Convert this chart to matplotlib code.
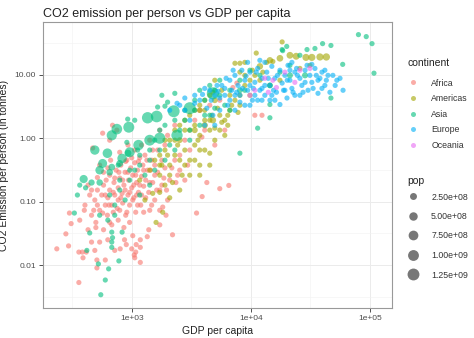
import numpy as np
import matplotlib
matplotlib.use("Agg")
import matplotlib.pyplot as plt
from matplotlib.lines import Line2D

plt.rcParams['font.family'] = ['Liberation Sans', 'DejaVu Sans']

# 데이터 - gdp per capita, co2 (tonnes per person)
africa_gdp = [235, 280, 310, 360, 300, 366, 400, 430, 460, 415, 490, 538, 500, 580, 630, 653,
              720, 800, 870, 900, 1020, 1080, 1180, 1050, 1180, 360, 385, 390, 510, 510, 1000,
              1060, 1180, 1090, 1390, 1350, 2200, 3500, 1720, 1820, 295, 600, 3900,
              490, 515, 538, 560, 580, 600, 625, 630, 653, 653, 680, 700, 710, 720, 740, 770,
              770, 793, 793, 810, 830, 840, 860, 880, 890, 910, 930, 940, 960, 980, 1000, 1020,
              1040, 1060, 1080, 1100, 1120, 1140, 1167, 1190, 1210, 1240, 1260, 1290, 1310,
              1360, 1416, 1470, 1560, 1650, 1718, 1900, 2084, 2300, 444, 460, 430, 405, 500,
              680, 770, 860, 960, 1416, 1560, 1790, 2000, 2430,
              1416, 1718, 2000, 2300, 2790, 3380, 3724, 4519, 5483, 7070, 7630, 3880, 4270,
              5483, 6530, 10800, 12400, 3069, 2529, 4100, 4980, 6040, 690, 750, 653, 570, 470, 515,
              538, 580, 610, 630, 665, 700, 720, 755, 780, 810, 840, 880, 890, 930, 962, 1000,
              1020, 1040, 1080, 1100, 1140, 1167, 1210, 1260, 1310, 1340, 1390, 1440, 1500, 1560,
              1620, 1650, 1790, 1860, 1960, 2170, 2350, 2529, 2790, 2950, 600, 645, 570, 515,
              480, 460, 910, 1120, 1260, 1470, 1718, 1940, 793, 930, 1060, 1210, 1500, 1900]
africa_co2 = [0.018, 0.031, 0.045, 0.0053, 0.066, 0.051, 0.073, 0.036, 0.023, 0.016, 0.017,
              0.023, 0.039, 0.036, 0.025, 0.047, 0.017, 0.018, 0.025, 0.021, 0.029, 0.016,
              0.019, 0.0144, 0.025, 0.016, 0.016, 0.013, 0.012, 0.009, 0.018, 0.013, 0.011,
              0.021, 0.036, 0.028, 0.030, 0.066, 0.043, 0.082, 0.020, 0.012, 0.12,
              0.106, 0.152, 0.073, 0.127, 0.182, 0.088, 0.061, 0.115, 0.152, 0.261, 0.088,
              0.068, 0.20, 0.127, 0.313, 0.106, 0.165, 0.073, 0.235, 0.376, 0.135, 0.095,
              0.182, 0.29, 0.061, 0.45, 0.127, 0.218, 0.088, 0.34, 0.165, 0.261, 0.115, 0.41,
              0.068, 0.20, 0.313, 0.14, 0.49, 0.088, 0.25, 0.376, 0.175, 0.54, 0.115, 0.313,
              0.20, 0.45, 0.261, 0.65, 0.152, 0.34, 0.218, 0.45, 0.127, 0.061, 0.182, 0.088,
              0.047, 0.043, 0.051, 0.039, 0.047, 0.073, 0.106, 0.182, 0.106, 0.261,
              0.93, 1.34, 1.11, 1.6, 0.93, 1.92, 2.76, 3.31, 3.97, 6.3, 7.4, 1.04, 0.20,
              0.16, 0.18, 2.3, 2.3, 0.65, 0.54, 1.34, 0.78, 1.34, 1.6, 1.34, 0.93, 1.2, 0.7, 0.24,
              0.376, 0.29, 0.218, 0.34, 0.45, 0.14, 0.235, 0.078, 0.29, 0.115, 0.218, 0.152,
              0.43, 0.29, 0.14, 0.49, 0.106, 0.182, 0.261, 0.127, 0.43, 0.182, 0.127, 0.313,
              0.218, 0.45, 0.14, 0.313, 0.20, 0.376, 0.152, 0.29, 0.45, 0.235, 0.152, 0.34,
              0.20, 0.313, 0.218, 0.376, 0.127, 0.088, 0.066, 0.088, 0.073, 0.152, 0.068,
              0.088, 0.068, 0.088, 0.073, 0.061, 0.6, 0.78, 0.65, 0.78, 0.65, 0.78]

americas_gdp = [18300, 11100, 7350, 8090, 8900, 13600, 15300, 4980, 5700, 4519, 4100, 3724,
                3380, 3069, 2790, 2529, 2300, 2084, 1900, 1718, 1560, 1416, 1718, 1500, 1718,
                1820, 1600, 2200, 2650, 3724, 4519, 4980, 5483, 6040, 6660, 7350, 8090, 8900,
                9820, 10800, 3724, 4100, 3069, 3380, 2790, 2529, 2084, 2300, 1900, 4700, 6400,
                9820, 12600, 14450, 17540, 25800, 31300, 4800, 3600, 2084, 1290, 1167,
                2790, 3380, 4519, 5483, 6660, 8090, 3380, 4100, 2430, 2000, 1790,
                4100, 4519, 5250, 5700, 6400, 6900, 7800, 4980, 6040, 3724, 3069, 2790, 2300,
                1900, 1718, 2084, 2529, 3724, 3069, 4519, 8900, 10300, 8090, 11900]
americas_co2 = [33, 22, 15.2, 15.2, 15.7, 15.7, 16.2, 8.2, 5.7, 4.75, 3.97, 3.31, 2.76, 2.3,
                1.92, 1.6, 1.34, 0.93, 0.65, 0.54, 0.45, 0.313, 0.261, 0.135, 0.14, 0.068,
                0.047, 0.20, 0.261, 0.376, 0.58, 0.93, 1.34, 1.92, 2.76, 3.97, 4.75, 6.8, 8.2,
                9.8, 1.11, 1.92, 1.34, 0.78, 0.65, 0.45, 0.376, 0.54, 0.182, 2.3, 1.6, 4.75,
                11, 6.8, 8.2, 12.6, 14.1, 5.3, 0.93, 0.115, 0.106, 0.218,
                0.376, 1.6, 1.34, 2.3, 4.75, 3.31, 0.45, 0.65, 0.78, 0.54, 0.376,
                2.76, 1.92, 2.97, 1.78, 2.3, 3.31, 2.55, 1.44, 1.11, 0.65, 0.45, 1.34, 0.93,
                0.93, 0.376, 0.261, 0.152, 0.261, 0.261, 0.376, 9.8, 11.8, 11, 8.2]
# 인구가 큰 나라 (미국, 브라질, 멕시코)
americas_big_gdp = [11900, 14450, 17540, 21280, 24000, 29000, 32500, 38020, 43000,
                    2529, 3380, 4100, 4800, 3724, 4980]
americas_big_co2 = [13.6, 16.9, 18.2, 20.3, 19.6, 18.8, 18.8, 19.1, 19.1,
                    0.93, 1.34, 1.6, 1.92, 2.76, 3.97]
americas_big_pop = [0.18e9, 0.19e9, 0.21e9, 0.23e9, 0.25e9, 0.27e9, 0.28e9, 0.29e9, 0.31e9,
                    0.09e9, 0.12e9, 0.15e9, 0.18e9, 0.07e9, 0.10e9]

asia_gdp = [80000, 93000, 104000, 40000, 47000, 34500, 29600, 20000, 18300, 59000, 108000,
            47000, 14450, 14450, 11400, 8090, 25800, 21280, 17540, 11900, 8900, 18500,
            1790, 2300, 2000, 1650, 1900, 925, 1060, 910,
            1167, 1416, 1718, 2084, 2529, 2790, 3380, 4100, 3069, 3724, 4519, 4980, 6040,
            2300, 1900, 1560, 1290, 962, 793, 1060, 880, 720, 1167, 1416, 6660, 8090, 9820, 5483,
            550, 600, 640, 525, 780, 680, 680, 690, 680, 830, 330, 444, 420, 538, 630, 720,
            350, 410, 366,
            2300, 2790, 3380, 3724, 4519, 5483, 1718, 1416, 1167, 962, 793, 653, 770, 1120,
            1560, 1900, 3069, 4100, 4980, 6660]
asia_co2 = [43, 40, 31, 31, 29, 26, 25, 28, 25, 14.6, 10.6, 4.3, 3.4, 2.1, 1.44, 0.58, 20.3,
            14.1, 11, 9.8, 5.7, 24,
            4.75, 5.1, 3.7, 3.1, 3.2, 2.0, 1.92, 0.86,
            0.54, 0.65, 0.65, 0.78, 1.34, 1.92, 2.76, 3.97, 0.93, 1.6, 2.3, 2.97, 3.31,
            0.65, 0.45, 0.313, 0.261, 0.218, 0.152, 0.313, 0.106, 0.088, 0.127, 0.182, 5.7,
            8.2, 11.8, 4.75,
            0.0034, 0.0058, 0.0087, 0.0104, 0.0116, 0.019, 0.023, 0.027, 0.033, 0.033,
            0.066, 0.032, 0.017, 0.061, 0.051, 0.061, 0.127, 0.165, 0.182,
            1.92, 2.76, 3.97, 5.7, 6.8, 8.2, 1.34, 0.45, 0.376, 0.313, 0.218, 0.127, 0.376,
            0.65, 0.93, 1.6, 1.34, 2.3, 5.7, 2.76]
# 중국, 인도, 인도네시아 등 인구가 큰 나라
asia_big_gdp = [490, 625, 680, 750, 945, 1360, 1620, 2250, 3069, 4800,
                395, 538, 570, 830, 962, 1140, 1416, 1718, 2400,
                460, 538, 653, 680, 793, 930,
                8090, 14450, 21280, 28500]
asia_big_co2 = [0.65, 0.58, 1.11, 1.39, 1.49, 2.1, 2.2, 2.66, 2.97, 5.1,
                0.227, 0.313, 0.40, 0.48, 0.60, 0.78, 0.93, 1.0, 1.11,
                0.2, 0.2, 0.29, 0.35, 0.4, 0.58,
                5.7, 6.8, 9.8, 9.8]
asia_big_pop = [0.67e9, 0.72e9, 0.85e9, 0.95e9, 1.03e9, 1.13e9, 1.2e9, 1.26e9, 1.3e9, 1.33e9,
                0.45e9, 0.52e9, 0.6e9, 0.7e9, 0.8e9, 0.9e9, 1.0e9, 1.08e9, 1.11e9,
                0.15e9, 0.18e9, 0.2e9, 0.22e9, 0.23e9, 0.25e9,
                0.10e9, 0.11e9, 0.12e9, 0.127e9]

europe_gdp = [3930, 4519, 5200, 5700, 6040, 6660, 6900, 7350, 7800, 8090, 8400, 8900, 9400,
              9820, 10300, 10800, 11400, 11900, 12400, 13100, 13600, 14450, 15000, 15900,
              16400, 17540, 18300, 19300, 20100, 20500, 21280, 22100, 23400, 24200, 25800,
              26800, 28500, 30200, 31300, 32500, 34500, 36600, 38000, 39500, 41800, 44400,
              48800, 17540, 14450, 6400, 7350, 5483, 4800, 4270, 3724, 3380, 2790, 2400, 3069,
              4100, 4980, 8900, 10800, 11900, 13100, 9400, 25800, 22100, 32500,
              4980, 6040, 7350, 9820, 11400, 13100, 15000, 19300, 23400, 28500, 36600, 51000,
              41800, 56000,
              5300, 6200, 7100, 7600, 8500, 9100, 10500, 11100, 12400, 14000, 15500, 16700,
              18800, 20200, 21280, 22600, 24600, 27400, 29600, 33300, 35400, 39500, 43000,
              46100, 52700, 59400, 4650, 5480, 6660, 8090, 9820, 12400, 15900, 3380, 4100,
              2790, 2529, 2084]
europe_co2 = [4.9, 5.7, 6.8, 6.8, 4.75, 8.2, 5.7, 9.8, 6.8, 4.75, 11.8, 8.2, 5.7, 11, 3.97,
              7.6, 12.6, 5.7, 8.8, 4.75, 11, 6.8, 13.6, 8.8, 5.3, 11.8, 7.4, 9.8, 4.3, 14.1,
              8.2, 6.1, 11, 12.6, 8.8, 6.8, 11.8, 5.7, 9.8, 7.6, 12.6, 5.1, 8.8, 11, 6.8, 9.8,
              9.8, 3.4, 3.97, 3.31, 2.76, 2.76, 2.3, 2.97, 3.97, 3.55, 2.76, 3.55, 1.92, 1.6,
              1.6, 3.31, 4.75, 16.9, 15.7, 15.7, 4.75, 15.7, 14.6,
              4.75, 6.1, 4.75, 6.8, 3.97, 6.8, 4.75, 5.7, 4.75, 7.6, 8.2, 6.8, 11.8, 8.8,
              5.5, 8.8, 11.8, 5.3, 6.1, 9.5, 6.1, 11, 6.1, 8.8, 5.7, 9.8, 5.7, 8.2, 11.8,
              5.3, 9.8, 5.3, 14.1, 6.1, 9.8, 6.1, 8.2, 5.3, 8.2, 5.7, 3.97, 4.3, 3.97, 3.7,
              3.31, 3.97, 3.97, 4.75, 6.1, 4.3, 3.31, 2.76]

oceania_gdp = [16400, 23400, 15300, 19300, 25800, 13100, 31300, 10800, 9820, 14000]
oceania_co2 = [6.3, 7.6, 8.2, 11, 11.8, 8.8, 12.6, 5.7, 4.75, 5.3]

small_pop = 2e7
pop_breaks = [2.5e8, 5.0e8, 7.5e8, 1.0e9, 1.25e9]
pop_labels = ['2.50e+08', '5.00e+08', '7.50e+08', '1.00e+09', '1.25e+09']

continents = ['Africa', 'Americas', 'Asia', 'Europe', 'Oceania']
colors = ['#F8766D', '#A3A500', '#00BF7D', '#00B0F6', '#E76BF3']


def size_of(pop):
    # ggplot 처럼 면적이 인구에 비례
    return 13 + 48 * np.asarray(pop) / 1e9


fig = plt.figure(figsize=(4.74, 3.38), dpi=100)
ax = fig.add_axes([43 / 474, 1 - 308 / 338, 349 / 474, 286 / 338])

groups = [
    (africa_gdp, africa_co2, None, None, None),
    (americas_gdp, americas_co2, americas_big_gdp, americas_big_co2, americas_big_pop),
    (asia_gdp, asia_co2, asia_big_gdp, asia_big_co2, asia_big_pop),
    (europe_gdp, europe_co2, None, None, None),
    (oceania_gdp, oceania_co2, None, None, None),
]
for (g, c, bg, bc, bp), col in zip(groups, colors):
    ax.scatter(g, c, s=size_of(small_pop), color=col, alpha=0.6, edgecolors='none', zorder=3)
    if bg is not None:
        ax.scatter(bg, bc, s=size_of(bp), color=col, alpha=0.6, edgecolors='none', zorder=3)

ax.set_xscale('log')
ax.set_yscale('log')
ax.set_xlim(180, 153000)
ax.set_ylim(0.0021, 68)

ax.set_xticks([1e3, 1e4, 1e5])
ax.set_xticklabels(['1e+03', '1e+04', '1e+05'])
ax.set_yticks([0.01, 0.1, 1, 10])
ax.set_yticklabels(['0.01', '0.10', '1.00', '10.00'])
ax.set_xticks([10 ** 2.5, 10 ** 3.5, 10 ** 4.5], minor=True)
ax.set_yticks([10 ** -2.5, 10 ** -1.5, 10 ** -0.5, 10 ** 0.5, 10 ** 1.5], minor=True)
ax.tick_params(which='minor', length=0)
ax.tick_params(which='major', length=3, width=0.6, color='#333333', labelsize=6,
               labelcolor='#4D4D4D', pad=2)
ax.grid(which='major', color='#EBEBEB', linewidth=0.7, zorder=0)
ax.grid(which='minor', color='#F2F2F2', linewidth=0.4, zorder=0)
ax.set_axisbelow(True)
for sp in ax.spines.values():
    sp.set_color('#999999')
    sp.set_linewidth(0.8)

ax.set_xlabel('GDP per capita', fontsize=7.5, color='#222222', labelpad=3)
ax.set_ylabel('CO2 Emission per person (in tonnes)', fontsize=7.5, color='#222222', labelpad=4)
fig.text(43 / 474, 1 - 17 / 338, 'CO2 emission per person vs GDP per capita',
         fontsize=9, color='#222222', va='baseline', ha='left')

# 범례 1: continent
fig.text(407 / 474, 1 - 66 / 338, 'continent', fontsize=7.5, color='#222222', va='baseline')
cont_handles = [Line2D([], [], marker='o', linestyle='', markersize=3.6, markerfacecolor=col,
                       markeredgecolor='none', alpha=0.6) for col in colors]
fig.legend(cont_handles, continents, loc='upper left',
           bbox_to_anchor=(404 / 474, 1 - 75 / 338), frameon=False, fontsize=6.3,
           labelspacing=0.75, handlelength=1.2, handletextpad=1.5, borderaxespad=0,
           labelcolor='#333333')

# 범례 2: pop
fig.text(407 / 474, 1 - 184 / 338, 'pop', fontsize=7.5, color='#222222', va='baseline')
pop_handles = [Line2D([], [], marker='o', linestyle='', markersize=np.sqrt(size_of(p)),
                      markerfacecolor='#555555', markeredgecolor='none', alpha=0.8)
               for p in pop_breaks]
fig.legend(pop_handles, pop_labels, loc='upper left',
           bbox_to_anchor=(404 / 474, 1 - 189 / 338), frameon=False, fontsize=6.3,
           labelspacing=1.2, handlelength=1.2, handletextpad=1.5, borderaxespad=0,
           labelcolor='#333333')

fig.savefig('out.png', dpi=100)
